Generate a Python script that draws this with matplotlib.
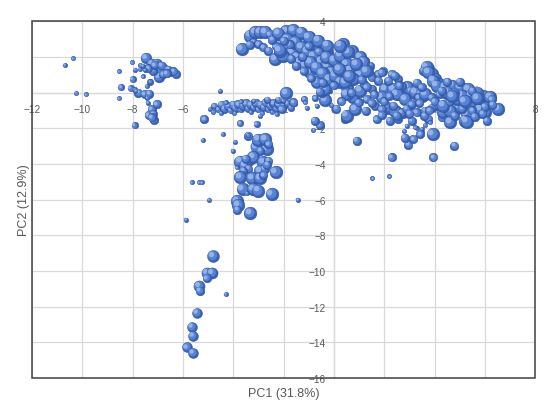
import numpy as np
import matplotlib
matplotlib.use("Agg")
import matplotlib.pyplot as plt
from matplotlib import transforms
from matplotlib.patches import Rectangle

# ---------------- data (PC1, PC2, bubble weight) ----------------
far_left_x = [-10.69, -10.37, -10.25, -9.84, -8.54, -8.46, -8.54, -8.02, -7.9, -7.92, -8.0, -8.08, -7.92, -7.77,
              -7.69, -7.6, -7.48, -7.44, -7.3, -7.52, -7.34, -7.42, -7.39, -7.23, -7.03, -7.36, -7.18, -7.14, -7.24,
              -7.24, -7.04, -6.91, -6.71, -6.51, -6.27, -6.94, -7.18, -7.38, -7.51, -7.71, -7.11, -6.84, -6.58,
              -6.38, -6.78, -6.64, -7.6, -7.31, -7.89]
far_left_y = [1.53, 1.91, -0.03, -0.11, 1.18, 0.29, -0.33, 1.69, 1.27, -1.83, 0.73, 0.23, 0.17, -0.03,
              1.53, 0.9, 1.93, 0.36, 0.6, -0.09, -0.07, -0.3, -0.58, -0.93, -0.65, -1.27, -1.21, -1.55, -1.4,
              1.59, 1.59, 1.31, 1.31, 1.13, 1.03, 0.85, 1.22, 1.35, 1.27, 1.31, 1.53, 1.5, 1.27,
              1.18, 1.03, 1.07, 1.5, 0.62, 0.1]
far_left_w = [1, 1, 1, 1, 1, 1.5, 1, 1, 1, 1.5, 1.5, 1.5, 1, 2,
              1, 1, 2.5, 1, 1.5, 2, 2, 1, 1, 2, 2, 2, 2, 2, 2,
              2.5, 2.5, 2.5, 2, 2, 2, 2.5, 2, 2, 1, 1, 2, 2, 2,
              2, 2, 2, 1, 1, 1]

band_x = [-4.92, -4.75, -4.6, -4.45, -4.35, -4.2, -4.1, -4.0, -3.9, -3.8, -3.7, -3.6, -3.5, -3.42, -3.3, -3.2,
          -3.1, -3.0, -2.9, -2.8, -2.7, -2.6, -2.5, -2.4, -2.3, -2.2, -2.1, -2.0, -1.85, -1.7, -1.55,
          -4.5, -3.95, -3.3, -2.85, -2.45, -4.8, -4.3, -3.7, -3.2, -2.65, -2.2,
          -4.52, -1.9, -1.18, -0.75, -5.15, -3.73, -3.07, -2.93, -2.27, -4.42, -3.4, -1.15, -0.68, -1.08,
          -2.07, -1.61, -2.01, -0.35, -0.48, -0.15]
band_y = [-0.9, -0.75, -0.95, -0.7, -0.9, -0.75, -1.0, -0.7, -0.85, -0.65, -0.95, -0.75, -0.6, -0.9, -0.7, -0.85,
          -0.6, -0.95, -0.7, -0.85, -0.55, -0.95, -0.75, -0.6, -0.9, -0.65, -0.95, -0.75, -0.6, -0.85, -0.65,
          -1.15, -1.15, -1.1, -1.15, -1.1, -1.1, -0.55, -0.5, -0.45, -0.4, -0.4,
          0.1, -0.05, -0.37, -0.3, -1.5, -1.72, -1.77, -1.3, -1.21, -2.33, -2.43, -0.55, -0.74, -0.84,
          -0.93, -0.55, -0.45, -0.42, 0.0, 0.1]
band_w = [1, 1.5, 1.5, 2, 2, 2, 1.5, 2, 2, 2, 1.5, 2, 2, 1.5, 2, 1.5,
          2, 1.5, 2, 1.5, 2, 1.5, 2, 2, 1.5, 2, 1.5, 1.5, 1.5, 1.5, 1,
          1, 1, 1, 1, 1, 1, 1, 1, 1, 1.5, 1.5,
          1, 3, 1.5, 1.5, 2, 1.5, 1.5, 1, 1, 1, 2, 1, 1, 1,
          2, 2, 1, 3, 2, 1]

mid_x = [-2.93, -2.8, -3.07, -2.67, -3.0, -2.74, -2.6, -2.93,
         -3.73, -3.53, -3.33, -3.2, -3.86, -3.4, -3.6,
         -2.8, -2.6, -2.93, -2.74, -2.31, -3.5, -2.65,
         -3.73, -3.26, -2.93, -2.8,
         -3.62, -3.2, -3.0, -3.46, -2.47,
         -3.84, -3.8, -3.84, -3.33,
         -5.65, -5.35, -5.25, -4.95, -5.88, -1.44, -5.21, -3.93, -4.02, -3.4,
         -0.81, -0.55, -0.75, 0.45]
mid_y = [-2.7, -2.99, -3.08, -3.17, -2.65, -2.61, -2.89, -3.27,
         -3.88, -4.1, -3.83, -3.64, -4.2, -4.29, -4.39,
         -3.92, -3.83, -4.39, -4.29, -4.48, -3.7, -4.05,
         -4.76, -4.81, -4.81, -4.63,
         -5.41, -5.41, -5.5, -5.64, -5.69,
         -6.07, -6.31, -6.57, -6.77,
         -5.04, -5.04, -5.04, -6.01, -7.13, -6.01, -2.67, -2.76, -3.27, -2.39,
         -2.11, -1.83, -1.58, -1.49]
mid_w = [3, 3, 3, 3, 3, 3, 2, 2,
         3, 3, 2, 3, 1, 2, 2,
         3, 2, 3, 2, 3, 2, 2,
         3, 3, 3, 2,
         3, 3, 3, 1, 3,
         3, 3, 2, 3,
         1, 1, 1, 1, 1, 1, 1, 1, 1, 1,
         1, 2, 2, 2]

tail_x = [-4.79, -5.05, -4.85, -5.05, -5.35, -5.32, -4.3, -5.45, -5.65, -5.61, -5.85, -5.59]
tail_y = [-9.15, -10.13, -10.13, -10.41, -10.83, -11.11, -11.29, -12.36, -13.12, -13.66, -14.28, -14.6]
tail_w = [2.8, 2.6, 2.6, 2, 2.6, 2, 1, 2.3, 2.3, 2.3, 2.3, 2.3]

main_x = [-3.66, -3.33, -3.13, -2.93, -2.74, -2.54, -2.34, -3.2, -3.0, -2.8, -2.6, -3.33, -2.34,
          -1.74, -1.54, -1.34, -1.21, -1.08, -0.75, -0.55, -0.28, -2.07, -1.87, -1.67, -2.01, -1.47, -1.34,
          -1.15, -0.95, -0.75, -0.68, -0.35, -0.55,
          -1.9, -1.61, -1.3, -1.0, -0.62, -0.28, -2.2, -2.3, -2.15, -1.85, -1.55, -1.3, -1.05, -0.8, -0.5,
          -0.25, -0.1, -1.7, -1.5, -1.2, -0.95, -0.7, -0.45, -0.2, -0.45, -0.9, -1.25, -0.6, -0.3, 0.0,
          -1.0, -1.75, -2.0, -2.45,
          0.35, 0.71, 1.04, 1.24, 1.44, 0.25, 0.51, 0.84, 1.51, 0.05, 0.25, 0.51, 0.78, 0.51, 0.84,
          0.58, 1.17, 0.25, 0.45, 0.65, 1.04, 0.78, 0.45, 0.51, 1.04, 1.31, 1.51, 1.51, 1.77, 1.97, 2.3,
          1.27, 0.91, 1.0, 1.2, 0.2, 0.0, 0.3, 0.1, -0.1, 0.7, 1.1, 0.9, 1.3, 0.6,
          1.9, 2.56, 1.77, 2.04, 2.37, 2.63, 2.9, 2.17, 2.43, 2.7, 3.03, 1.9, 1.64, 2.1, 2.43, 2.76,
          2.5, 2.83, 3.03, 2.7, 2.37, 1.9, 1.71, 1.9, 2.23, 2.56, 2.9, 1.6, 2.0, 2.2, 2.6, 2.9, 1.3, 1.5,
          3.23, 3.49, 3.76, 3.89, 4.02, 4.16, 3.69, 3.56, 3.76, 3.96, 4.09, 3.89, 4.16, 3.1, 3.36, 3.63,
          3.89, 3.3, 3.63, 3.1, 3.76, 3.3, 3.49, 3.23, 3.63, 3.83, 3.49, 2.8, 2.96, 2.83, 3.16, 3.43,
          3.93, 2.3, 3.96, 4.79, 1.53, 2.21, 3.4, 3.6, 3.0, 2.5, 3.8, 4.0, 4.3, 3.3, 3.5,
          4.42, 4.69, 5.02, 5.35, 5.61, 5.94, 6.21, 6.52, 6.01, 5.28, 4.89, 4.35, 5.68, 6.08, 5.22, 4.62,
          5.68, 6.28, 4.89, 5.42, 5.81, 4.62, 4.35, 4.22, 4.49, 5.08, 5.48, 4.62, 5.28, 4.6, 4.8, 5.1,
          5.5, 5.8, 6.0, 6.3, 5.9, 5.5, 5.0, 4.5, 4.8, 5.6, 4.3, 4.7, 5.2, 5.7]
main_y = [2.43, 3.18, 3.37, 3.4, 3.37, 3.27, 3.08, 2.81, 2.71, 2.53, 2.34, 2.66, 1.87,
          3.37, 3.27, 3.18, 2.99, 2.81, 2.71, 2.43, 2.25, 2.81, 2.53, 2.25, 2.06, 1.97, 1.69,
          1.5, 1.13, 0.85, 0.57, 0.19, 0.04,
          3.45, 3.5, 3.35, 3.1, 2.9, 2.62, 3.3, 2.6, 2.35, 3.0, 2.8, 2.55, 2.3, 2.05, 1.75,
          1.45, 1.15, 1.9, 1.5, 1.2, 1.7, 1.4, 1.1, 0.75, 0.55, 0.8, 2.0, 2.3, 2.0, 1.8,
          2.6, 2.7, 2.9, 2.95,
          2.71, 2.34, 1.97, 1.78, 1.5, 2.06, 1.59, 1.22, 0.94, 0.94, 0.57, 0.29, -0.27, -1.3, -0.93,
          2.25, 1.69, 2.62, 1.22, 1.22, 1.03, 0.75, 0.57, -0.09, 0.1, -0.37, 0.19, 0.85, 1.03, 1.22, 1.03,
          -1.02, -2.7, -0.55, 0.5, 1.3, 0.4, -0.5, -0.9, -0.7, 0.0, 0.7, 1.6, 1.2, 0.9,
          1.13, 0.75, 0.66, 0.19, 0.19, -0.09, 0.29, 0.66, 0.94, 0.38, 0.1, -0.27, -0.74, -0.84, -1.02, -1.21,
          -0.09, -0.37, -0.74, -1.12, -0.74, -0.93, -1.49, -1.27, -1.58, -1.49, -1.86, -0.1, -0.5, -0.2, 0.4, -0.9, 0.3, -0.6,
          0.0, -0.18, 1.31, 1.03, 0.75, 0.47, 1.41, 1.22, 1.13, 0.66, 0.38, -0.84, -0.74, -0.65, -0.27, -0.09,
          -0.27, -1.12, -1.02, -1.58, -1.49, -2.01, -2.05, -1.96, -1.83, -1.68, -2.24, -2.14, -2.92, -2.55, -2.61, -2.33,
          -2.33, -3.64, -3.64, -2.97, -4.81, -4.7, -0.6, -1.3, -1.2, -1.3, -1.0, -0.5, -1.4, 0.55, 0.3,
          0.29, 0.38, 0.29, 0.19, -0.09, -0.18, -0.27, -0.93, -1.12, -1.21, -0.84, -1.12, -0.65, -1.58, -1.58, -1.58,
          0.0, -0.37, -0.37, -0.65, -0.93, -1.02, -0.74, -0.09, 0.0, -0.18, -0.18, -1.68, -1.64, -0.5, 0.0, -0.9,
          -1.0, -0.4, -0.8, -0.7, -1.2, 0.1, 0.6, 0.6, -1.3, -1.35, 0.1, -0.2, -0.5, -0.3]
main_w = [3, 3, 3, 3, 3, 2, 2, 2, 2, 2, 2, 2, 3,
          3, 3, 3, 3, 3, 3, 3, 3, 3, 3, 3, 3, 3, 3,
          3, 3, 3, 3, 3, 2,
          3, 3, 3, 3, 3, 3, 3, 2, 3, 3, 3, 3, 3, 3, 3,
          3, 3, 2, 2, 2, 3, 3, 3, 3, 2, 2, 2, 2, 3, 3,
          2, 2, 2, 2,
          3, 3, 3, 2, 2, 3, 3, 3, 2, 3, 3, 3, 3, 3, 3,
          3, 3, 3, 3, 3, 3, 3, 3, 3, 3, 2, 2, 2, 2, 2, 2,
          2, 2, 2, 2, 3, 2, 2, 2, 1, 2, 2, 3, 3, 3,
          2, 2, 2, 3, 3, 3, 3, 2, 2, 2, 2, 3, 2, 3, 3, 2,
          3, 3, 2, 2, 2, 2, 2, 2, 2, 2, 1, 2, 2, 2, 2, 2, 2, 2,
          3, 3, 3, 3, 3, 3, 3, 2, 3, 3, 3, 2, 2, 2, 2, 3,
          2, 2, 2, 2, 2, 1, 1, 1, 1, 1, 1, 1, 2, 2, 2, 2,
          3, 2, 2, 2, 1, 1, 2, 2, 2, 2, 2, 2, 2, 2, 2,
          3, 3, 3, 3, 3, 3, 3, 3, 3, 3, 3, 3, 3, 2, 3, 2,
          3, 2, 3, 3, 3, 3, 3, 2, 3, 3, 3, 3, 3, 2, 2, 2,
          2, 2, 2, 2, 2, 2, 2, 2, 2, 2, 2, 3, 3, 3]

pc1 = far_left_x + band_x + mid_x + tail_x + main_x
pc2 = far_left_y + band_y + mid_y + tail_y + main_y
weight = far_left_w + band_w + mid_w + tail_w + main_w

x_ticks = [-12, -10, -8, -6, -4, -2, 0, 2, 4, 6, 8]
y_ticks = [4, 2, 0, -2, -4, -6, -8, -10, -12, -14, -16]
x_title = "PC1 (31.8%)"
y_title = "PC2 (12.9%)"

# ---------------- figure ----------------
fig = plt.figure(figsize=(5.5, 4.1), dpi=100)
ax = fig.add_axes([0.058, 0.0756, 0.915, 0.8704])
ax.set_xlim(-12, 8)
ax.set_ylim(-16, 4)
ax.set_xticks(x_ticks)
ax.set_yticks(y_ticks)
ax.grid(True, color="#d9d9d9", linewidth=0.9)
ax.set_axisbelow(True)

for side in ["top", "right"]:
    ax.spines[side].set_visible(False)
ax.spines["left"].set_position(("data", 0))
ax.spines["bottom"].set_position(("data", 0))
ax.spines["left"].set_color("#d9d9d9")
ax.spines["bottom"].set_color("#d9d9d9")
ax.spines["left"].set_linewidth(0.9)
ax.spines["bottom"].set_linewidth(0.9)
ax.tick_params(axis="both", length=0, labelsize=7.2, labelcolor="#595959")
ax.tick_params(axis="x", pad=8)
ax.tick_params(axis="y", pad=6)
for lab in ax.get_xticklabels() + ax.get_yticklabels():
    lab.set_fontfamily("Liberation Sans")

frame = Rectangle((0, 0), 1, 1, transform=ax.transAxes, fill=False,
                  edgecolor="#404040", linewidth=1.1, zorder=10, clip_on=False)
ax.add_patch(frame)

# bubbles with a simple sphere shading, drawn point by point
for xv, yv, wv in zip(pc1, pc2, weight):
    s = 10.5 * wv ** 1.9
    r = np.sqrt(s) / 2.0
    ax.scatter([xv], [yv], s=s, color="#3a62b2", edgecolors="#2d4f96",
               linewidths=0.3, zorder=3)
    t1 = transforms.offset_copy(ax.transData, fig=fig, x=-0.18 * r, y=0.18 * r, units="points")
    ax.scatter([xv], [yv], s=s * 0.62, color="#5883d2", linewidths=0,
               transform=t1, zorder=3)
    t2 = transforms.offset_copy(ax.transData, fig=fig, x=-0.36 * r, y=0.36 * r, units="points")
    ax.scatter([xv], [yv], s=s * 0.2, color="#a4bfee", alpha=0.8, linewidths=0,
               transform=t2, zorder=3)

fig.text(0.515, 0.04, x_title, ha="center", va="center", fontsize=9,
         color="#595959", family="Liberation Sans")
fig.text(0.044, 0.512, y_title, ha="center", va="center", fontsize=9,
         color="#595959", family="Liberation Sans", rotation=90)

fig.savefig("out.png", dpi=100)
